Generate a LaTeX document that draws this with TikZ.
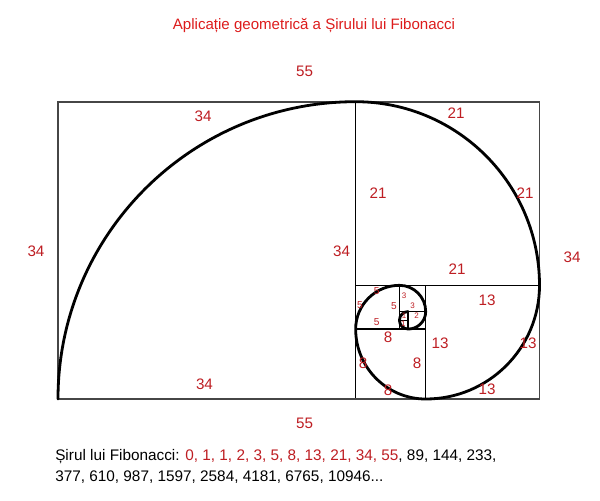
\documentclass[tikz,border=0pt]{standalone}
\usepackage{fontspec}
\setmainfont{Liberation Sans}
\definecolor{numred}{RGB}{190,30,35}
\definecolor{titlered}{RGB}{221,28,28}
\definecolor{framegray}{RGB}{70,70,70}
\begin{document}
\begin{tikzpicture}[x=0.75pt,y=-0.75pt,
  lbl/.style={inner sep=0pt,text=numred,font=\fontsize{11.4pt}{13pt}\selectfont},
  lblmid/.style={inner sep=0pt,text=numred,font=\fontsize{7.6pt}{9pt}\selectfont},
  lblsmall/.style={inner sep=0pt,text=numred,font=\fontsize{6pt}{7pt}\selectfont},
  frame/.style={draw=framegray,line width=1.2pt},
  divider/.style={draw=black,line width=1.1pt},
  spiral/.style={draw=black,line width=2.1pt,line cap=round}]
\useasboundingbox (0,0) rectangle (600,500);
\fill[white] (0,0) rectangle (600,500);
% geometry in Fibonacci units, origin at bottom-left of the big rectangle
\begin{scope}[shift={(43.5pt,-299.25pt)},x=6.566pt,y=6.558pt]
  \draw[divider] (34,0) -- (34,34);
  \draw[divider] (34,13) -- (55,13);
  \draw[divider] (42,0) -- (42,13);
  \draw[divider] (34,8) -- (42,8);
  \draw[divider] (39,8) -- (39,13);
  \draw[divider] (39,10) -- (42,10);
  \draw[divider] (40,8) -- (40,10);
  \draw[divider] (39,9) -- (40,9);
  \draw[frame] (0,0) rectangle (55,34);
  \coordinate (s0) at (0,0);
  \draw[spiral] (s0)
    arc[start angle=180,end angle=90,radius=34]
    arc[start angle=90,end angle=0,radius=21]
    arc[start angle=0,end angle=-90,radius=13]
    arc[start angle=-90,end angle=-180,radius=8]
    arc[start angle=180,end angle=90,radius=5]
    arc[start angle=90,end angle=0,radius=3]
    arc[start angle=0,end angle=-90,radius=2]
    arc[start angle=-90,end angle=-180,radius=1]
    arc[start angle=180,end angle=90,radius=1];
\end{scope}
% title
\node[anchor=base,inner sep=0pt,text=titlered,font=\fontsize{11.3pt}{13pt}\selectfont] (title) at (314,29) {Aplicație geometrică a Șirului lui Fibonacci};
% big labels
\node[lbl] (t55) at (304.5,71.2) {55};
\node[lbl] (a34) at (203,116.5) {34};
\node[lbl] (b21) at (456,113) {21};
\node[lbl] (c21) at (378,193) {21};
\node[lbl] (d21) at (525,193) {21};
\node[lbl] (l34) at (36,251) {34};
\node[lbl] (m34) at (341.5,251) {34};
\node[lbl] (r34) at (572,257) {34};
\node[lbl] (e21) at (457,269) {21};
\node[lbl] (f13) at (487,300) {13};
\node[lbl] (g13) at (440,343) {13};
\node[lbl] (h13) at (528,343) {13};
\node[lbl] (i13) at (487,389) {13};
\node[lbl] (j8) at (388,337) {8};
\node[lbl] (k8) at (363,363) {8};
\node[lbl] (n8) at (417,363) {8};
\node[lbl] (o8) at (388,390) {8};
\node[lbl] (p34) at (204.5,384) {34};
\node[lbl] (b55) at (304.5,423.5) {55};
% small labels
\node[lblmid] (q5) at (376.7,291) {5};
\node[lblmid] (r5) at (360,305) {5};
\node[lblmid] (s5) at (394,305.7) {5};
\node[lblmid] (u5) at (376.7,322.3) {5};
\node[lblsmall] (v3) at (404,296) {3};
\node[lblsmall] (w3) at (412.7,306) {3};
\node[lblsmall] (x2) at (416.7,315.7) {2};
\node[lblsmall] (y1) at (404,316) {1};
\node[lblsmall] (z1) at (403.3,323.3) {1};
% sequence text
\node[anchor=base west,inner sep=0pt,font=\fontsize{11.5pt}{13pt}\selectfont] (seq1) at (55,460.7) {Șirul lui Fibonacci: \textcolor{numred}{0, 1, 1, 2, 3, 5, 8, 13, 21, 34, 55}, 89, 144, 233,};
\node[anchor=base west,inner sep=0pt,font=\fontsize{11.5pt}{13pt}\selectfont] (seq2) at (55,481.7) {377, 610, 987, 1597, 2584, 4181, 6765, 10946...};
\end{tikzpicture}
\end{document}
